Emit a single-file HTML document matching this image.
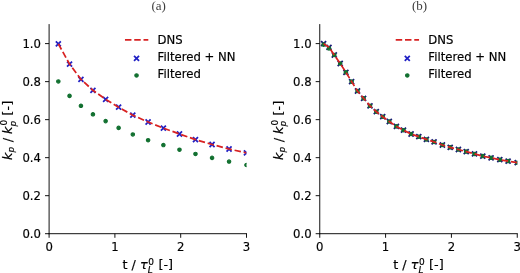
<!DOCTYPE html>
<html><head><meta charset="utf-8"><title>figure</title><style>html,body{margin:0;padding:0;background:#fff;width:520px;height:273px;overflow:hidden}svg{display:block}svg text{stroke:#000;stroke-width:0.15px;paint-order:stroke}</style></head><body>
<svg width="520" height="273" viewBox="0 0 445.714286 234">
 <defs>
  <style type="text/css">*{stroke-linejoin: round; stroke-linecap: butt}</style>
 </defs>
 <g id="figure_1">
  <g id="patch_1">
   <path d="M 0 234 L 445.714286 234 L 445.714286 0 L 0 0 z" style="fill: #ffffff"/>
  </g>
  <g id="axes_1">
   <g id="patch_2">
    <path d="M 42.085714 200.314286 L 211.285714 200.314286 L 211.285714 21.085714 L 42.085714 21.085714 z" style="fill: #ffffff"/>
   </g>
   <g id="matplotlib.axis_1">
    <g id="xtick_1">
     <g id="line2d_1">
      <g>
       <path d="M 0 0 L 0 3.5" transform="translate(42.085714 200.314286)" style="stroke: #000000; stroke-width: 0.8"/>
      </g>
     </g>
     <g id="text_1">
      <text style="font-size: 10px; font-family: 'DejaVu Sans', sans-serif; text-anchor: middle" x="42.085714" y="214.912723" transform="rotate(-0 42.085714 214.912723)">0</text>
     </g>
    </g>
    <g id="xtick_2">
     <g id="line2d_2">
      <g>
       <path d="M 0 0 L 0 3.5" transform="translate(98.485714 200.314286)" style="stroke: #000000; stroke-width: 0.8"/>
      </g>
     </g>
     <g id="text_2">
      <text style="font-size: 10px; font-family: 'DejaVu Sans', sans-serif; text-anchor: middle" x="98.485714" y="214.912723" transform="rotate(-0 98.485714 214.912723)">1</text>
     </g>
    </g>
    <g id="xtick_3">
     <g id="line2d_3">
      <g>
       <path d="M 0 0 L 0 3.5" transform="translate(154.885714 200.314286)" style="stroke: #000000; stroke-width: 0.8"/>
      </g>
     </g>
     <g id="text_3">
      <text style="font-size: 10px; font-family: 'DejaVu Sans', sans-serif; text-anchor: middle" x="154.885714" y="214.912723" transform="rotate(-0 154.885714 214.912723)">2</text>
     </g>
    </g>
    <g id="xtick_4">
     <g id="line2d_4">
      <g>
       <path d="M 0 0 L 0 3.5" transform="translate(211.285714 200.314286)" style="stroke: #000000; stroke-width: 0.8"/>
      </g>
     </g>
     <g id="text_4">
      <text style="font-size: 10px; font-family: 'DejaVu Sans', sans-serif; text-anchor: middle" x="211.285714" y="214.912723" transform="rotate(-0 211.285714 214.912723)">3</text>
     </g>
    </g>
    <g id="text_5">
     <g transform="translate(104.9607 231.0024)">
      <text>
       <tspan x="0" y="-0.06875" style="font-size: 11px; font-family: 'DejaVu Sans', sans-serif">t</tspan>
       <tspan x="4.312988" y="-0.06875" style="font-size: 11px; font-family: 'DejaVu Sans', sans-serif"> </tspan>
       <tspan x="7.80957" y="-0.06875" style="font-size: 11px; font-family: 'DejaVu Sans', sans-serif">/</tspan>
       <tspan x="11.515625" y="-0.06875" style="font-size: 11px; font-family: 'DejaVu Sans', sans-serif"> </tspan>
       <tspan x="27.325798" y="-0.06875" style="font-size: 11px; font-family: 'DejaVu Sans', sans-serif"> </tspan>
       <tspan x="30.82238" y="-0.06875" style="font-size: 11px; font-family: 'DejaVu Sans', sans-serif">[</tspan>
       <tspan x="35.113883" y="-0.06875" style="font-size: 11px; font-family: 'DejaVu Sans', sans-serif">-</tspan>
       <tspan x="39.083122" y="-0.06875" style="font-size: 11px; font-family: 'DejaVu Sans', sans-serif">]</tspan>
       <tspan x="15.012207" y="-0.06875" style="font-style: oblique; font-size: 11px; font-family: 'DejaVu Sans', sans-serif">τ</tspan>
       <tspan x="22.126042" y="-4.279688" style="font-size: 7.7px; font-family: 'DejaVu Sans', sans-serif">0</tspan>
       <tspan x="21.634766" y="2.939062" style="font-style: oblique; font-size: 7.7px; font-family: 'DejaVu Sans', sans-serif">L</tspan>
      </text>
     </g>
    </g>
   </g>
   <g id="matplotlib.axis_2">
    <g id="ytick_1">
     <g id="line2d_5">
      <g>
       <path d="M 0 0 L -3.5 0" transform="translate(42.085714 200.314286)" style="stroke: #000000; stroke-width: 0.8"/>
      </g>
     </g>
     <g id="text_6">
      <text style="font-size: 10px; font-family: 'DejaVu Sans', sans-serif; text-anchor: end" x="35.085714" y="204.113504" transform="rotate(-0 35.085714 204.113504)">0.0</text>
     </g>
    </g>
    <g id="ytick_2">
     <g id="line2d_6">
      <g>
       <path d="M 0 0 L -3.5 0" transform="translate(42.085714 167.727273)" style="stroke: #000000; stroke-width: 0.8"/>
      </g>
     </g>
     <g id="text_7">
      <text style="font-size: 10px; font-family: 'DejaVu Sans', sans-serif; text-anchor: end" x="35.085714" y="171.526491" transform="rotate(-0 35.085714 171.526491)">0.2</text>
     </g>
    </g>
    <g id="ytick_3">
     <g id="line2d_7">
      <g>
       <path d="M 0 0 L -3.5 0" transform="translate(42.085714 135.14026)" style="stroke: #000000; stroke-width: 0.8"/>
      </g>
     </g>
     <g id="text_8">
      <text style="font-size: 10px; font-family: 'DejaVu Sans', sans-serif; text-anchor: end" x="35.085714" y="138.939478" transform="rotate(-0 35.085714 138.939478)">0.4</text>
     </g>
    </g>
    <g id="ytick_4">
     <g id="line2d_8">
      <g>
       <path d="M 0 0 L -3.5 0" transform="translate(42.085714 102.553247)" style="stroke: #000000; stroke-width: 0.8"/>
      </g>
     </g>
     <g id="text_9">
      <text style="font-size: 10px; font-family: 'DejaVu Sans', sans-serif; text-anchor: end" x="35.085714" y="106.352466" transform="rotate(-0 35.085714 106.352466)">0.6</text>
     </g>
    </g>
    <g id="ytick_5">
     <g id="line2d_9">
      <g>
       <path d="M 0 0 L -3.5 0" transform="translate(42.085714 69.966234)" style="stroke: #000000; stroke-width: 0.8"/>
      </g>
     </g>
     <g id="text_10">
      <text style="font-size: 10px; font-family: 'DejaVu Sans', sans-serif; text-anchor: end" x="35.085714" y="73.765453" transform="rotate(-0 35.085714 73.765453)">0.8</text>
     </g>
    </g>
    <g id="ytick_6">
     <g id="line2d_10">
      <g>
       <path d="M 0 0 L -3.5 0" transform="translate(42.085714 37.379221)" style="stroke: #000000; stroke-width: 0.8"/>
      </g>
     </g>
     <g id="text_11">
      <text style="font-size: 10px; font-family: 'DejaVu Sans', sans-serif; text-anchor: end" x="35.085714" y="41.17844" transform="rotate(-0 35.085714 41.17844)">1.0</text>
     </g>
    </g>
    <g id="text_12">
     <g transform="translate(10.5626 137.0836) rotate(-90)">
      <text>
       <tspan x="0" y="-0.06875" style="font-style: oblique; font-size: 11px; font-family: 'DejaVu Sans', sans-serif">k</tspan>
       <tspan x="22.257812" y="-0.06875" style="font-style: oblique; font-size: 11px; font-family: 'DejaVu Sans', sans-serif">k</tspan>
       <tspan x="6.370117" y="1.735937" style="font-style: oblique; font-size: 7.7px; font-family: 'DejaVu Sans', sans-serif">p</tspan>
       <tspan x="28.62793" y="2.939062" style="font-style: oblique; font-size: 7.7px; font-family: 'DejaVu Sans', sans-serif">p</tspan>
       <tspan x="11.558594" y="-0.06875" style="font-size: 11px; font-family: 'DejaVu Sans', sans-serif"> </tspan>
       <tspan x="15.055176" y="-0.06875" style="font-size: 11px; font-family: 'DejaVu Sans', sans-serif">/</tspan>
       <tspan x="18.76123" y="-0.06875" style="font-size: 11px; font-family: 'DejaVu Sans', sans-serif"> </tspan>
       <tspan x="34.647087" y="-0.06875" style="font-size: 11px; font-family: 'DejaVu Sans', sans-serif"> </tspan>
       <tspan x="38.143669" y="-0.06875" style="font-size: 11px; font-family: 'DejaVu Sans', sans-serif">[</tspan>
       <tspan x="42.435173" y="-0.06875" style="font-size: 11px; font-family: 'DejaVu Sans', sans-serif">-</tspan>
       <tspan x="46.404411" y="-0.06875" style="font-size: 11px; font-family: 'DejaVu Sans', sans-serif">]</tspan>
       <tspan x="29.447331" y="-4.279688" style="font-size: 7.7px; font-family: 'DejaVu Sans', sans-serif">0</tspan>
      </text>
     </g>
    </g>
   </g>
   <g id="line2d_11">
    <g clip-path="url(#p7e6d1752d5)">
     <path d="M -2.15 2.15 L 2.15 -2.15 M -2.15 -2.15 L 2.15 2.15" transform="translate(50.010271 37.542857)" style="fill: #2020c4; stroke: #2020c4; stroke-width: 1.5"/>
     <path d="M -2.15 2.15 L 2.15 -2.15 M -2.15 -2.15 L 2.15 2.15" transform="translate(59.60541 54.942857)" style="fill: #2020c4; stroke: #2020c4; stroke-width: 1.5"/>
     <path d="M -2.15 2.15 L 2.15 -2.15 M -2.15 -2.15 L 2.15 2.15" transform="translate(69.371892 67.971429)" style="fill: #2020c4; stroke: #2020c4; stroke-width: 1.5"/>
     <path d="M -2.15 2.15 L 2.15 -2.15 M -2.15 -2.15 L 2.15 2.15" transform="translate(79.652398 77.4)" style="fill: #2020c4; stroke: #2020c4; stroke-width: 1.5"/>
     <path d="M -2.15 2.15 L 2.15 -2.15 M -2.15 -2.15 L 2.15 2.15" transform="translate(90.5326 85.114286)" style="fill: #2020c4; stroke: #2020c4; stroke-width: 1.5"/>
     <path d="M -2.15 2.15 L 2.15 -2.15 M -2.15 -2.15 L 2.15 2.15" transform="translate(101.669816 91.885714)" style="fill: #2020c4; stroke: #2020c4; stroke-width: 1.5"/>
     <path d="M -2.15 2.15 L 2.15 -2.15 M -2.15 -2.15 L 2.15 2.15" transform="translate(113.835081 98.742857)" style="fill: #2020c4; stroke: #2020c4; stroke-width: 1.5"/>
     <path d="M -2.15 2.15 L 2.15 -2.15 M -2.15 -2.15 L 2.15 2.15" transform="translate(126.942727 104.571429)" style="fill: #2020c4; stroke: #2020c4; stroke-width: 1.5"/>
     <path d="M -2.15 2.15 L 2.15 -2.15 M -2.15 -2.15 L 2.15 2.15" transform="translate(140.050373 109.8)" style="fill: #2020c4; stroke: #2020c4; stroke-width: 1.5"/>
     <path d="M -2.15 2.15 L 2.15 -2.15 M -2.15 -2.15 L 2.15 2.15" transform="translate(153.843385 114.857143)" style="fill: #2020c4; stroke: #2020c4; stroke-width: 1.5"/>
     <path d="M -2.15 2.15 L 2.15 -2.15 M -2.15 -2.15 L 2.15 2.15" transform="translate(167.550727 119.657143)" style="fill: #2020c4; stroke: #2020c4; stroke-width: 1.5"/>
     <path d="M -2.15 2.15 L 2.15 -2.15 M -2.15 -2.15 L 2.15 2.15" transform="translate(181.772094 123.857143)" style="fill: #2020c4; stroke: #2020c4; stroke-width: 1.5"/>
     <path d="M -2.15 2.15 L 2.15 -2.15 M -2.15 -2.15 L 2.15 2.15" transform="translate(196.336145 127.714286)" style="fill: #2020c4; stroke: #2020c4; stroke-width: 1.5"/>
     <path d="M -2.15 2.15 L 2.15 -2.15 M -2.15 -2.15 L 2.15 2.15" transform="translate(211.242879 131.057143)" style="fill: #2020c4; stroke: #2020c4; stroke-width: 1.5"/>
    </g>
   </g>
   <g id="line2d_12">
    <g clip-path="url(#p7e6d1752d5)">
     <path d="M 0 1.45 C 0.384544 1.45 0.753391 1.297219 1.025305 1.025305 C 1.297219 0.753391 1.45 0.384544 1.45 0 C 1.45 -0.384544 1.297219 -0.753391 1.025305 -1.025305 C 0.753391 -1.297219 0.384544 -1.45 0 -1.45 C -0.384544 -1.45 -0.753391 -1.297219 -1.025305 -1.025305 C -1.297219 -0.753391 -1.45 -0.384544 -1.45 0 C -1.45 0.384544 -1.297219 0.753391 -1.025305 1.025305 C -0.753391 1.297219 -0.384544 1.45 0 1.45 z" transform="translate(50.010271 69.771429)" style="fill: #127030; stroke: #127030"/>
     <path d="M 0 1.45 C 0.384544 1.45 0.753391 1.297219 1.025305 1.025305 C 1.297219 0.753391 1.45 0.384544 1.45 0 C 1.45 -0.384544 1.297219 -0.753391 1.025305 -1.025305 C 0.753391 -1.297219 0.384544 -1.45 0 -1.45 C -0.384544 -1.45 -0.753391 -1.297219 -1.025305 -1.025305 C -1.297219 -0.753391 -1.45 -0.384544 -1.45 0 C -1.45 0.384544 -1.297219 0.753391 -1.025305 1.025305 C -0.753391 1.297219 -0.384544 1.45 0 1.45 z" transform="translate(59.60541 82.2)" style="fill: #127030; stroke: #127030"/>
     <path d="M 0 1.45 C 0.384544 1.45 0.753391 1.297219 1.025305 1.025305 C 1.297219 0.753391 1.45 0.384544 1.45 0 C 1.45 -0.384544 1.297219 -0.753391 1.025305 -1.025305 C 0.753391 -1.297219 0.384544 -1.45 0 -1.45 C -0.384544 -1.45 -0.753391 -1.297219 -1.025305 -1.025305 C -1.297219 -0.753391 -1.45 -0.384544 -1.45 0 C -1.45 0.384544 -1.297219 0.753391 -1.025305 1.025305 C -0.753391 1.297219 -0.384544 1.45 0 1.45 z" transform="translate(69.371892 90.685714)" style="fill: #127030; stroke: #127030"/>
     <path d="M 0 1.45 C 0.384544 1.45 0.753391 1.297219 1.025305 1.025305 C 1.297219 0.753391 1.45 0.384544 1.45 0 C 1.45 -0.384544 1.297219 -0.753391 1.025305 -1.025305 C 0.753391 -1.297219 0.384544 -1.45 0 -1.45 C -0.384544 -1.45 -0.753391 -1.297219 -1.025305 -1.025305 C -1.297219 -0.753391 -1.45 -0.384544 -1.45 0 C -1.45 0.384544 -1.297219 0.753391 -1.025305 1.025305 C -0.753391 1.297219 -0.384544 1.45 0 1.45 z" transform="translate(79.652398 97.971429)" style="fill: #127030; stroke: #127030"/>
     <path d="M 0 1.45 C 0.384544 1.45 0.753391 1.297219 1.025305 1.025305 C 1.297219 0.753391 1.45 0.384544 1.45 0 C 1.45 -0.384544 1.297219 -0.753391 1.025305 -1.025305 C 0.753391 -1.297219 0.384544 -1.45 0 -1.45 C -0.384544 -1.45 -0.753391 -1.297219 -1.025305 -1.025305 C -1.297219 -0.753391 -1.45 -0.384544 -1.45 0 C -1.45 0.384544 -1.297219 0.753391 -1.025305 1.025305 C -0.753391 1.297219 -0.384544 1.45 0 1.45 z" transform="translate(90.5326 103.8)" style="fill: #127030; stroke: #127030"/>
     <path d="M 0 1.45 C 0.384544 1.45 0.753391 1.297219 1.025305 1.025305 C 1.297219 0.753391 1.45 0.384544 1.45 0 C 1.45 -0.384544 1.297219 -0.753391 1.025305 -1.025305 C 0.753391 -1.297219 0.384544 -1.45 0 -1.45 C -0.384544 -1.45 -0.753391 -1.297219 -1.025305 -1.025305 C -1.297219 -0.753391 -1.45 -0.384544 -1.45 0 C -1.45 0.384544 -1.297219 0.753391 -1.025305 1.025305 C -0.753391 1.297219 -0.384544 1.45 0 1.45 z" transform="translate(101.669816 109.628571)" style="fill: #127030; stroke: #127030"/>
     <path d="M 0 1.45 C 0.384544 1.45 0.753391 1.297219 1.025305 1.025305 C 1.297219 0.753391 1.45 0.384544 1.45 0 C 1.45 -0.384544 1.297219 -0.753391 1.025305 -1.025305 C 0.753391 -1.297219 0.384544 -1.45 0 -1.45 C -0.384544 -1.45 -0.753391 -1.297219 -1.025305 -1.025305 C -1.297219 -0.753391 -1.45 -0.384544 -1.45 0 C -1.45 0.384544 -1.297219 0.753391 -1.025305 1.025305 C -0.753391 1.297219 -0.384544 1.45 0 1.45 z" transform="translate(113.835081 115.2)" style="fill: #127030; stroke: #127030"/>
     <path d="M 0 1.45 C 0.384544 1.45 0.753391 1.297219 1.025305 1.025305 C 1.297219 0.753391 1.45 0.384544 1.45 0 C 1.45 -0.384544 1.297219 -0.753391 1.025305 -1.025305 C 0.753391 -1.297219 0.384544 -1.45 0 -1.45 C -0.384544 -1.45 -0.753391 -1.297219 -1.025305 -1.025305 C -1.297219 -0.753391 -1.45 -0.384544 -1.45 0 C -1.45 0.384544 -1.297219 0.753391 -1.025305 1.025305 C -0.753391 1.297219 -0.384544 1.45 0 1.45 z" transform="translate(126.942727 120.171429)" style="fill: #127030; stroke: #127030"/>
     <path d="M 0 1.45 C 0.384544 1.45 0.753391 1.297219 1.025305 1.025305 C 1.297219 0.753391 1.45 0.384544 1.45 0 C 1.45 -0.384544 1.297219 -0.753391 1.025305 -1.025305 C 0.753391 -1.297219 0.384544 -1.45 0 -1.45 C -0.384544 -1.45 -0.753391 -1.297219 -1.025305 -1.025305 C -1.297219 -0.753391 -1.45 -0.384544 -1.45 0 C -1.45 0.384544 -1.297219 0.753391 -1.025305 1.025305 C -0.753391 1.297219 -0.384544 1.45 0 1.45 z" transform="translate(140.050373 124.371429)" style="fill: #127030; stroke: #127030"/>
     <path d="M 0 1.45 C 0.384544 1.45 0.753391 1.297219 1.025305 1.025305 C 1.297219 0.753391 1.45 0.384544 1.45 0 C 1.45 -0.384544 1.297219 -0.753391 1.025305 -1.025305 C 0.753391 -1.297219 0.384544 -1.45 0 -1.45 C -0.384544 -1.45 -0.753391 -1.297219 -1.025305 -1.025305 C -1.297219 -0.753391 -1.45 -0.384544 -1.45 0 C -1.45 0.384544 -1.297219 0.753391 -1.025305 1.025305 C -0.753391 1.297219 -0.384544 1.45 0 1.45 z" transform="translate(153.843385 128.314286)" style="fill: #127030; stroke: #127030"/>
     <path d="M 0 1.45 C 0.384544 1.45 0.753391 1.297219 1.025305 1.025305 C 1.297219 0.753391 1.45 0.384544 1.45 0 C 1.45 -0.384544 1.297219 -0.753391 1.025305 -1.025305 C 0.753391 -1.297219 0.384544 -1.45 0 -1.45 C -0.384544 -1.45 -0.753391 -1.297219 -1.025305 -1.025305 C -1.297219 -0.753391 -1.45 -0.384544 -1.45 0 C -1.45 0.384544 -1.297219 0.753391 -1.025305 1.025305 C -0.753391 1.297219 -0.384544 1.45 0 1.45 z" transform="translate(167.550727 131.914286)" style="fill: #127030; stroke: #127030"/>
     <path d="M 0 1.45 C 0.384544 1.45 0.753391 1.297219 1.025305 1.025305 C 1.297219 0.753391 1.45 0.384544 1.45 0 C 1.45 -0.384544 1.297219 -0.753391 1.025305 -1.025305 C 0.753391 -1.297219 0.384544 -1.45 0 -1.45 C -0.384544 -1.45 -0.753391 -1.297219 -1.025305 -1.025305 C -1.297219 -0.753391 -1.45 -0.384544 -1.45 0 C -1.45 0.384544 -1.297219 0.753391 -1.025305 1.025305 C -0.753391 1.297219 -0.384544 1.45 0 1.45 z" transform="translate(181.772094 135.342857)" style="fill: #127030; stroke: #127030"/>
     <path d="M 0 1.45 C 0.384544 1.45 0.753391 1.297219 1.025305 1.025305 C 1.297219 0.753391 1.45 0.384544 1.45 0 C 1.45 -0.384544 1.297219 -0.753391 1.025305 -1.025305 C 0.753391 -1.297219 0.384544 -1.45 0 -1.45 C -0.384544 -1.45 -0.753391 -1.297219 -1.025305 -1.025305 C -1.297219 -0.753391 -1.45 -0.384544 -1.45 0 C -1.45 0.384544 -1.297219 0.753391 -1.025305 1.025305 C -0.753391 1.297219 -0.384544 1.45 0 1.45 z" transform="translate(196.336145 138.514286)" style="fill: #127030; stroke: #127030"/>
     <path d="M 0 1.45 C 0.384544 1.45 0.753391 1.297219 1.025305 1.025305 C 1.297219 0.753391 1.45 0.384544 1.45 0 C 1.45 -0.384544 1.297219 -0.753391 1.025305 -1.025305 C 0.753391 -1.297219 0.384544 -1.45 0 -1.45 C -0.384544 -1.45 -0.753391 -1.297219 -1.025305 -1.025305 C -1.297219 -0.753391 -1.45 -0.384544 -1.45 0 C -1.45 0.384544 -1.297219 0.753391 -1.025305 1.025305 C -0.753391 1.297219 -0.384544 1.45 0 1.45 z" transform="translate(211.242879 141.428571)" style="fill: #127030; stroke: #127030"/>
    </g>
   </g>
   <g id="line2d_13">
    <path d="M 50.010271 37.542857 L 59.60541 54.942857 L 69.371892 67.971429 L 79.652398 77.4 L 90.5326 85.114286 L 101.669816 91.885714 L 113.835081 98.742857 L 126.942727 104.571429 L 140.050373 109.8 L 153.843385 114.857143 L 167.550727 119.657143 L 181.772094 123.857143 L 196.336145 127.714286 L 211.242879 131.057143" clip-path="url(#p7e6d1752d5)" style="fill: none; stroke-dasharray: 5.55,2.4; stroke-dashoffset: 0; stroke: #d82222; stroke-width: 1.5"/>
   </g>
   <g id="patch_3">
    <path d="M 42.085714 200.314286 L 42.085714 21.085714" style="fill: none; stroke: #000000; stroke-width: 0.8; stroke-linejoin: miter; stroke-linecap: square"/>
   </g>
   <g id="patch_4">
    <path d="M 42.085714 200.314286 L 211.285714 200.314286" style="fill: none; stroke: #000000; stroke-width: 0.8; stroke-linejoin: miter; stroke-linecap: square"/>
   </g>
   <g id="legend_1" transform="translate(-0.4286 0)">
    <g id="line2d_14">
     <path d="M 107.543527 34.184152 L 117.543527 34.184152 L 127.543527 34.184152" style="fill: none; stroke-dasharray: 5.55,2.4; stroke-dashoffset: 0; stroke: #d82222; stroke-width: 1.5"/>
    </g>
    <g id="text_13">
     <text style="font-size: 10px; font-family: 'DejaVu Sans', sans-serif; text-anchor: start" x="135.543527" y="37.684152" transform="rotate(-0 135.543527 37.684152)">DNS</text>
    </g>
    <g id="line2d_15">
     <g>
      <path d="M -2.15 2.15 L 2.15 -2.15 M -2.15 -2.15 L 2.15 2.15" transform="translate(117.4578 49.9766)" style="fill: #2020c4; stroke: #2020c4; stroke-width: 1.5"/>
     </g>
    </g>
    <g id="text_14">
     <text style="font-size: 10px; font-family: 'DejaVu Sans', sans-serif; text-anchor: start" x="135.543527" y="52.362277" transform="rotate(-0 135.543527 52.362277)">Filtered + NN</text>
    </g>
    <g id="line2d_16">
     <g>
      <path d="M 0 1.45 C 0.384544 1.45 0.753391 1.297219 1.025305 1.025305 C 1.297219 0.753391 1.45 0.384544 1.45 0 C 1.45 -0.384544 1.297219 -0.753391 1.025305 -1.025305 C 0.753391 -1.297219 0.384544 -1.45 0 -1.45 C -0.384544 -1.45 -0.753391 -1.297219 -1.025305 -1.025305 C -1.297219 -0.753391 -1.45 -0.384544 -1.45 0 C -1.45 0.384544 -1.297219 0.753391 -1.025305 1.025305 C -0.753391 1.297219 -0.384544 1.45 0 1.45 z" transform="translate(117.4578 64.6547)" style="fill: #127030; stroke: #127030"/>
     </g>
    </g>
    <g id="text_15">
     <text style="font-size: 10px; font-family: 'DejaVu Sans', sans-serif; text-anchor: start" x="135.543527" y="67.040402" transform="rotate(-0 135.543527 67.040402)">Filtered</text>
    </g>
   </g>
  </g>
  <g id="axes_2">
   <g id="patch_5">
    <path d="M 274.071429 200.314286 L 443.357143 200.314286 L 443.357143 21.085714 L 274.071429 21.085714 z" style="fill: #ffffff"/>
   </g>
   <g id="matplotlib.axis_3">
    <g id="xtick_5">
     <g id="line2d_17">
      <g>
       <path d="M 0 0 L 0 3.5" transform="translate(274.071429 200.314286)" style="stroke: #000000; stroke-width: 0.8"/>
      </g>
     </g>
     <g id="text_16">
      <text style="font-size: 10px; font-family: 'DejaVu Sans', sans-serif; text-anchor: middle" x="274.071429" y="214.912723" transform="rotate(-0 274.071429 214.912723)">0</text>
     </g>
    </g>
    <g id="xtick_6">
     <g id="line2d_18">
      <g>
       <path d="M 0 0 L 0 3.5" transform="translate(330.5 200.314286)" style="stroke: #000000; stroke-width: 0.8"/>
      </g>
     </g>
     <g id="text_17">
      <text style="font-size: 10px; font-family: 'DejaVu Sans', sans-serif; text-anchor: middle" x="330.5" y="214.912723" transform="rotate(-0 330.5 214.912723)">1</text>
     </g>
    </g>
    <g id="xtick_7">
     <g id="line2d_19">
      <g>
       <path d="M 0 0 L 0 3.5" transform="translate(386.928571 200.314286)" style="stroke: #000000; stroke-width: 0.8"/>
      </g>
     </g>
     <g id="text_18">
      <text style="font-size: 10px; font-family: 'DejaVu Sans', sans-serif; text-anchor: middle" x="386.928571" y="214.912723" transform="rotate(-0 386.928571 214.912723)">2</text>
     </g>
    </g>
    <g id="xtick_8">
     <g id="line2d_20">
      <g>
       <path d="M 0 0 L 0 3.5" transform="translate(443.357143 200.314286)" style="stroke: #000000; stroke-width: 0.8"/>
      </g>
     </g>
     <g id="text_19">
      <text style="font-size: 10px; font-family: 'DejaVu Sans', sans-serif; text-anchor: middle" x="443.357143" y="214.912723" transform="rotate(-0 443.357143 214.912723)">3</text>
     </g>
    </g>
    <g id="text_20">
     <g transform="translate(336.9893 231.0024)">
      <text>
       <tspan x="0" y="-0.06875" style="font-size: 11px; font-family: 'DejaVu Sans', sans-serif">t</tspan>
       <tspan x="4.312988" y="-0.06875" style="font-size: 11px; font-family: 'DejaVu Sans', sans-serif"> </tspan>
       <tspan x="7.80957" y="-0.06875" style="font-size: 11px; font-family: 'DejaVu Sans', sans-serif">/</tspan>
       <tspan x="11.515625" y="-0.06875" style="font-size: 11px; font-family: 'DejaVu Sans', sans-serif"> </tspan>
       <tspan x="27.325798" y="-0.06875" style="font-size: 11px; font-family: 'DejaVu Sans', sans-serif"> </tspan>
       <tspan x="30.82238" y="-0.06875" style="font-size: 11px; font-family: 'DejaVu Sans', sans-serif">[</tspan>
       <tspan x="35.113883" y="-0.06875" style="font-size: 11px; font-family: 'DejaVu Sans', sans-serif">-</tspan>
       <tspan x="39.083122" y="-0.06875" style="font-size: 11px; font-family: 'DejaVu Sans', sans-serif">]</tspan>
       <tspan x="15.012207" y="-0.06875" style="font-style: oblique; font-size: 11px; font-family: 'DejaVu Sans', sans-serif">τ</tspan>
       <tspan x="22.126042" y="-4.279688" style="font-size: 7.7px; font-family: 'DejaVu Sans', sans-serif">0</tspan>
       <tspan x="21.634766" y="2.939062" style="font-style: oblique; font-size: 7.7px; font-family: 'DejaVu Sans', sans-serif">L</tspan>
      </text>
     </g>
    </g>
   </g>
   <g id="matplotlib.axis_4">
    <g id="ytick_7">
     <g id="line2d_21">
      <g>
       <path d="M 0 0 L -3.5 0" transform="translate(274.071429 200.314286)" style="stroke: #000000; stroke-width: 0.8"/>
      </g>
     </g>
     <g id="text_21">
      <text style="font-size: 10px; font-family: 'DejaVu Sans', sans-serif; text-anchor: end" x="267.071429" y="204.113504" transform="rotate(-0 267.071429 204.113504)">0.0</text>
     </g>
    </g>
    <g id="ytick_8">
     <g id="line2d_22">
      <g>
       <path d="M 0 0 L -3.5 0" transform="translate(274.071429 167.727273)" style="stroke: #000000; stroke-width: 0.8"/>
      </g>
     </g>
     <g id="text_22">
      <text style="font-size: 10px; font-family: 'DejaVu Sans', sans-serif; text-anchor: end" x="267.071429" y="171.526491" transform="rotate(-0 267.071429 171.526491)">0.2</text>
     </g>
    </g>
    <g id="ytick_9">
     <g id="line2d_23">
      <g>
       <path d="M 0 0 L -3.5 0" transform="translate(274.071429 135.14026)" style="stroke: #000000; stroke-width: 0.8"/>
      </g>
     </g>
     <g id="text_23">
      <text style="font-size: 10px; font-family: 'DejaVu Sans', sans-serif; text-anchor: end" x="267.071429" y="138.939478" transform="rotate(-0 267.071429 138.939478)">0.4</text>
     </g>
    </g>
    <g id="ytick_10">
     <g id="line2d_24">
      <g>
       <path d="M 0 0 L -3.5 0" transform="translate(274.071429 102.553247)" style="stroke: #000000; stroke-width: 0.8"/>
      </g>
     </g>
     <g id="text_24">
      <text style="font-size: 10px; font-family: 'DejaVu Sans', sans-serif; text-anchor: end" x="267.071429" y="106.352466" transform="rotate(-0 267.071429 106.352466)">0.6</text>
     </g>
    </g>
    <g id="ytick_11">
     <g id="line2d_25">
      <g>
       <path d="M 0 0 L -3.5 0" transform="translate(274.071429 69.966234)" style="stroke: #000000; stroke-width: 0.8"/>
      </g>
     </g>
     <g id="text_25">
      <text style="font-size: 10px; font-family: 'DejaVu Sans', sans-serif; text-anchor: end" x="267.071429" y="73.765453" transform="rotate(-0 267.071429 73.765453)">0.8</text>
     </g>
    </g>
    <g id="ytick_12">
     <g id="line2d_26">
      <g>
       <path d="M 0 0 L -3.5 0" transform="translate(274.071429 37.379221)" style="stroke: #000000; stroke-width: 0.8"/>
      </g>
     </g>
     <g id="text_26">
      <text style="font-size: 10px; font-family: 'DejaVu Sans', sans-serif; text-anchor: end" x="267.071429" y="41.17844" transform="rotate(-0 267.071429 41.17844)">1.0</text>
     </g>
    </g>
    <g id="text_27">
     <g transform="translate(242.5483 137.0836) rotate(-90)">
      <text>
       <tspan x="0" y="-0.06875" style="font-style: oblique; font-size: 11px; font-family: 'DejaVu Sans', sans-serif">k</tspan>
       <tspan x="22.257812" y="-0.06875" style="font-style: oblique; font-size: 11px; font-family: 'DejaVu Sans', sans-serif">k</tspan>
       <tspan x="6.370117" y="1.735937" style="font-style: oblique; font-size: 7.7px; font-family: 'DejaVu Sans', sans-serif">p</tspan>
       <tspan x="28.62793" y="2.939062" style="font-style: oblique; font-size: 7.7px; font-family: 'DejaVu Sans', sans-serif">p</tspan>
       <tspan x="11.558594" y="-0.06875" style="font-size: 11px; font-family: 'DejaVu Sans', sans-serif"> </tspan>
       <tspan x="15.055176" y="-0.06875" style="font-size: 11px; font-family: 'DejaVu Sans', sans-serif">/</tspan>
       <tspan x="18.76123" y="-0.06875" style="font-size: 11px; font-family: 'DejaVu Sans', sans-serif"> </tspan>
       <tspan x="34.647087" y="-0.06875" style="font-size: 11px; font-family: 'DejaVu Sans', sans-serif"> </tspan>
       <tspan x="38.143669" y="-0.06875" style="font-size: 11px; font-family: 'DejaVu Sans', sans-serif">[</tspan>
       <tspan x="42.435173" y="-0.06875" style="font-size: 11px; font-family: 'DejaVu Sans', sans-serif">-</tspan>
       <tspan x="46.404411" y="-0.06875" style="font-size: 11px; font-family: 'DejaVu Sans', sans-serif">]</tspan>
       <tspan x="29.447331" y="-4.279688" style="font-size: 7.7px; font-family: 'DejaVu Sans', sans-serif">0</tspan>
      </text>
     </g>
    </g>
   </g>
   <g id="line2d_27">
    <g clip-path="url(#p95ece65097)">
     <path d="M -2.15 2.15 L 2.15 -2.15 M -2.15 -2.15 L 2.15 2.15" transform="translate(277.371429 37.371429)" style="fill: #1a1a78; stroke: #1a1a78; stroke-width: 1.5"/>
     <path d="M -2.15 2.15 L 2.15 -2.15 M -2.15 -2.15 L 2.15 2.15" transform="translate(282 40.628571)" style="fill: #1a1a78; stroke: #1a1a78; stroke-width: 1.5"/>
     <path d="M -2.15 2.15 L 2.15 -2.15 M -2.15 -2.15 L 2.15 2.15" transform="translate(286.542857 47.142857)" style="fill: #1a1a78; stroke: #1a1a78; stroke-width: 1.5"/>
     <path d="M -2.15 2.15 L 2.15 -2.15 M -2.15 -2.15 L 2.15 2.15" transform="translate(291.6 54.428571)" style="fill: #1a1a78; stroke: #1a1a78; stroke-width: 1.5"/>
     <path d="M -2.15 2.15 L 2.15 -2.15 M -2.15 -2.15 L 2.15 2.15" transform="translate(296.485714 61.971429)" style="fill: #1a1a78; stroke: #1a1a78; stroke-width: 1.5"/>
     <path d="M -2.15 2.15 L 2.15 -2.15 M -2.15 -2.15 L 2.15 2.15" transform="translate(301.371429 69.942857)" style="fill: #1a1a78; stroke: #1a1a78; stroke-width: 1.5"/>
     <path d="M -2.15 2.15 L 2.15 -2.15 M -2.15 -2.15 L 2.15 2.15" transform="translate(306.428571 78)" style="fill: #1a1a78; stroke: #1a1a78; stroke-width: 1.5"/>
     <path d="M -2.15 2.15 L 2.15 -2.15 M -2.15 -2.15 L 2.15 2.15" transform="translate(311.657143 84.257143)" style="fill: #1a1a78; stroke: #1a1a78; stroke-width: 1.5"/>
     <path d="M -2.15 2.15 L 2.15 -2.15 M -2.15 -2.15 L 2.15 2.15" transform="translate(317.142857 90.685714)" style="fill: #1a1a78; stroke: #1a1a78; stroke-width: 1.5"/>
     <path d="M -2.15 2.15 L 2.15 -2.15 M -2.15 -2.15 L 2.15 2.15" transform="translate(322.542857 95.742857)" style="fill: #1a1a78; stroke: #1a1a78; stroke-width: 1.5"/>
     <path d="M -2.15 2.15 L 2.15 -2.15 M -2.15 -2.15 L 2.15 2.15" transform="translate(328.028571 100.028571)" style="fill: #1a1a78; stroke: #1a1a78; stroke-width: 1.5"/>
     <path d="M -2.15 2.15 L 2.15 -2.15 M -2.15 -2.15 L 2.15 2.15" transform="translate(333.685714 104.142857)" style="fill: #1a1a78; stroke: #1a1a78; stroke-width: 1.5"/>
     <path d="M -2.15 2.15 L 2.15 -2.15 M -2.15 -2.15 L 2.15 2.15" transform="translate(339.771429 108.342857)" style="fill: #1a1a78; stroke: #1a1a78; stroke-width: 1.5"/>
     <path d="M -2.15 2.15 L 2.15 -2.15 M -2.15 -2.15 L 2.15 2.15" transform="translate(345.857143 111.6)" style="fill: #1a1a78; stroke: #1a1a78; stroke-width: 1.5"/>
     <path d="M -2.15 2.15 L 2.15 -2.15 M -2.15 -2.15 L 2.15 2.15" transform="translate(352.371429 114.857143)" style="fill: #1a1a78; stroke: #1a1a78; stroke-width: 1.5"/>
     <path d="M -2.15 2.15 L 2.15 -2.15 M -2.15 -2.15 L 2.15 2.15" transform="translate(358.971429 117.171429)" style="fill: #1a1a78; stroke: #1a1a78; stroke-width: 1.5"/>
     <path d="M -2.15 2.15 L 2.15 -2.15 M -2.15 -2.15 L 2.15 2.15" transform="translate(365.485714 119.485714)" style="fill: #1a1a78; stroke: #1a1a78; stroke-width: 1.5"/>
     <path d="M -2.15 2.15 L 2.15 -2.15 M -2.15 -2.15 L 2.15 2.15" transform="translate(372.085714 121.628571)" style="fill: #1a1a78; stroke: #1a1a78; stroke-width: 1.5"/>
     <path d="M -2.15 2.15 L 2.15 -2.15 M -2.15 -2.15 L 2.15 2.15" transform="translate(379.2 124.285714)" style="fill: #1a1a78; stroke: #1a1a78; stroke-width: 1.5"/>
     <path d="M -2.15 2.15 L 2.15 -2.15 M -2.15 -2.15 L 2.15 2.15" transform="translate(385.885714 126.257143)" style="fill: #1a1a78; stroke: #1a1a78; stroke-width: 1.5"/>
     <path d="M -2.15 2.15 L 2.15 -2.15 M -2.15 -2.15 L 2.15 2.15" transform="translate(392.914286 128.142857)" style="fill: #1a1a78; stroke: #1a1a78; stroke-width: 1.5"/>
     <path d="M -2.15 2.15 L 2.15 -2.15 M -2.15 -2.15 L 2.15 2.15" transform="translate(399.6 129.942857)" style="fill: #1a1a78; stroke: #1a1a78; stroke-width: 1.5"/>
     <path d="M -2.15 2.15 L 2.15 -2.15 M -2.15 -2.15 L 2.15 2.15" transform="translate(406.714286 131.914286)" style="fill: #1a1a78; stroke: #1a1a78; stroke-width: 1.5"/>
     <path d="M -2.15 2.15 L 2.15 -2.15 M -2.15 -2.15 L 2.15 2.15" transform="translate(413.828571 133.8)" style="fill: #1a1a78; stroke: #1a1a78; stroke-width: 1.5"/>
     <path d="M -2.15 2.15 L 2.15 -2.15 M -2.15 -2.15 L 2.15 2.15" transform="translate(420.942857 135.257143)" style="fill: #1a1a78; stroke: #1a1a78; stroke-width: 1.5"/>
     <path d="M -2.15 2.15 L 2.15 -2.15 M -2.15 -2.15 L 2.15 2.15" transform="translate(428.4 136.885714)" style="fill: #1a1a78; stroke: #1a1a78; stroke-width: 1.5"/>
     <path d="M -2.15 2.15 L 2.15 -2.15 M -2.15 -2.15 L 2.15 2.15" transform="translate(435.514286 138.085714)" style="fill: #1a1a78; stroke: #1a1a78; stroke-width: 1.5"/>
     <path d="M -2.15 2.15 L 2.15 -2.15 M -2.15 -2.15 L 2.15 2.15" transform="translate(443.314286 139.457143)" style="fill: #1a1a78; stroke: #1a1a78; stroke-width: 1.5"/>
    </g>
   </g>
   <g id="line2d_28">
    <g clip-path="url(#p95ece65097)">
     <path d="M 0 1.45 C 0.384544 1.45 0.753391 1.297219 1.025305 1.025305 C 1.297219 0.753391 1.45 0.384544 1.45 0 C 1.45 -0.384544 1.297219 -0.753391 1.025305 -1.025305 C 0.753391 -1.297219 0.384544 -1.45 0 -1.45 C -0.384544 -1.45 -0.753391 -1.297219 -1.025305 -1.025305 C -1.297219 -0.753391 -1.45 -0.384544 -1.45 0 C -1.45 0.384544 -1.297219 0.753391 -1.025305 1.025305 C -0.753391 1.297219 -0.384544 1.45 0 1.45 z" transform="translate(277.371429 38.228571)" style="fill: #127030; stroke: #127030"/>
     <path d="M 0 1.45 C 0.384544 1.45 0.753391 1.297219 1.025305 1.025305 C 1.297219 0.753391 1.45 0.384544 1.45 0 C 1.45 -0.384544 1.297219 -0.753391 1.025305 -1.025305 C 0.753391 -1.297219 0.384544 -1.45 0 -1.45 C -0.384544 -1.45 -0.753391 -1.297219 -1.025305 -1.025305 C -1.297219 -0.753391 -1.45 -0.384544 -1.45 0 C -1.45 0.384544 -1.297219 0.753391 -1.025305 1.025305 C -0.753391 1.297219 -0.384544 1.45 0 1.45 z" transform="translate(282 41.485714)" style="fill: #127030; stroke: #127030"/>
     <path d="M 0 1.45 C 0.384544 1.45 0.753391 1.297219 1.025305 1.025305 C 1.297219 0.753391 1.45 0.384544 1.45 0 C 1.45 -0.384544 1.297219 -0.753391 1.025305 -1.025305 C 0.753391 -1.297219 0.384544 -1.45 0 -1.45 C -0.384544 -1.45 -0.753391 -1.297219 -1.025305 -1.025305 C -1.297219 -0.753391 -1.45 -0.384544 -1.45 0 C -1.45 0.384544 -1.297219 0.753391 -1.025305 1.025305 C -0.753391 1.297219 -0.384544 1.45 0 1.45 z" transform="translate(286.542857 47.142857)" style="fill: #127030; stroke: #127030"/>
     <path d="M 0 1.45 C 0.384544 1.45 0.753391 1.297219 1.025305 1.025305 C 1.297219 0.753391 1.45 0.384544 1.45 0 C 1.45 -0.384544 1.297219 -0.753391 1.025305 -1.025305 C 0.753391 -1.297219 0.384544 -1.45 0 -1.45 C -0.384544 -1.45 -0.753391 -1.297219 -1.025305 -1.025305 C -1.297219 -0.753391 -1.45 -0.384544 -1.45 0 C -1.45 0.384544 -1.297219 0.753391 -1.025305 1.025305 C -0.753391 1.297219 -0.384544 1.45 0 1.45 z" transform="translate(291.6 54.428571)" style="fill: #127030; stroke: #127030"/>
     <path d="M 0 1.45 C 0.384544 1.45 0.753391 1.297219 1.025305 1.025305 C 1.297219 0.753391 1.45 0.384544 1.45 0 C 1.45 -0.384544 1.297219 -0.753391 1.025305 -1.025305 C 0.753391 -1.297219 0.384544 -1.45 0 -1.45 C -0.384544 -1.45 -0.753391 -1.297219 -1.025305 -1.025305 C -1.297219 -0.753391 -1.45 -0.384544 -1.45 0 C -1.45 0.384544 -1.297219 0.753391 -1.025305 1.025305 C -0.753391 1.297219 -0.384544 1.45 0 1.45 z" transform="translate(296.485714 61.971429)" style="fill: #127030; stroke: #127030"/>
     <path d="M 0 1.45 C 0.384544 1.45 0.753391 1.297219 1.025305 1.025305 C 1.297219 0.753391 1.45 0.384544 1.45 0 C 1.45 -0.384544 1.297219 -0.753391 1.025305 -1.025305 C 0.753391 -1.297219 0.384544 -1.45 0 -1.45 C -0.384544 -1.45 -0.753391 -1.297219 -1.025305 -1.025305 C -1.297219 -0.753391 -1.45 -0.384544 -1.45 0 C -1.45 0.384544 -1.297219 0.753391 -1.025305 1.025305 C -0.753391 1.297219 -0.384544 1.45 0 1.45 z" transform="translate(301.371429 69.942857)" style="fill: #127030; stroke: #127030"/>
     <path d="M 0 1.45 C 0.384544 1.45 0.753391 1.297219 1.025305 1.025305 C 1.297219 0.753391 1.45 0.384544 1.45 0 C 1.45 -0.384544 1.297219 -0.753391 1.025305 -1.025305 C 0.753391 -1.297219 0.384544 -1.45 0 -1.45 C -0.384544 -1.45 -0.753391 -1.297219 -1.025305 -1.025305 C -1.297219 -0.753391 -1.45 -0.384544 -1.45 0 C -1.45 0.384544 -1.297219 0.753391 -1.025305 1.025305 C -0.753391 1.297219 -0.384544 1.45 0 1.45 z" transform="translate(306.428571 78)" style="fill: #127030; stroke: #127030"/>
     <path d="M 0 1.45 C 0.384544 1.45 0.753391 1.297219 1.025305 1.025305 C 1.297219 0.753391 1.45 0.384544 1.45 0 C 1.45 -0.384544 1.297219 -0.753391 1.025305 -1.025305 C 0.753391 -1.297219 0.384544 -1.45 0 -1.45 C -0.384544 -1.45 -0.753391 -1.297219 -1.025305 -1.025305 C -1.297219 -0.753391 -1.45 -0.384544 -1.45 0 C -1.45 0.384544 -1.297219 0.753391 -1.025305 1.025305 C -0.753391 1.297219 -0.384544 1.45 0 1.45 z" transform="translate(311.657143 84.257143)" style="fill: #127030; stroke: #127030"/>
     <path d="M 0 1.45 C 0.384544 1.45 0.753391 1.297219 1.025305 1.025305 C 1.297219 0.753391 1.45 0.384544 1.45 0 C 1.45 -0.384544 1.297219 -0.753391 1.025305 -1.025305 C 0.753391 -1.297219 0.384544 -1.45 0 -1.45 C -0.384544 -1.45 -0.753391 -1.297219 -1.025305 -1.025305 C -1.297219 -0.753391 -1.45 -0.384544 -1.45 0 C -1.45 0.384544 -1.297219 0.753391 -1.025305 1.025305 C -0.753391 1.297219 -0.384544 1.45 0 1.45 z" transform="translate(317.142857 90.685714)" style="fill: #127030; stroke: #127030"/>
     <path d="M 0 1.45 C 0.384544 1.45 0.753391 1.297219 1.025305 1.025305 C 1.297219 0.753391 1.45 0.384544 1.45 0 C 1.45 -0.384544 1.297219 -0.753391 1.025305 -1.025305 C 0.753391 -1.297219 0.384544 -1.45 0 -1.45 C -0.384544 -1.45 -0.753391 -1.297219 -1.025305 -1.025305 C -1.297219 -0.753391 -1.45 -0.384544 -1.45 0 C -1.45 0.384544 -1.297219 0.753391 -1.025305 1.025305 C -0.753391 1.297219 -0.384544 1.45 0 1.45 z" transform="translate(322.542857 95.742857)" style="fill: #127030; stroke: #127030"/>
     <path d="M 0 1.45 C 0.384544 1.45 0.753391 1.297219 1.025305 1.025305 C 1.297219 0.753391 1.45 0.384544 1.45 0 C 1.45 -0.384544 1.297219 -0.753391 1.025305 -1.025305 C 0.753391 -1.297219 0.384544 -1.45 0 -1.45 C -0.384544 -1.45 -0.753391 -1.297219 -1.025305 -1.025305 C -1.297219 -0.753391 -1.45 -0.384544 -1.45 0 C -1.45 0.384544 -1.297219 0.753391 -1.025305 1.025305 C -0.753391 1.297219 -0.384544 1.45 0 1.45 z" transform="translate(328.028571 100.028571)" style="fill: #127030; stroke: #127030"/>
     <path d="M 0 1.45 C 0.384544 1.45 0.753391 1.297219 1.025305 1.025305 C 1.297219 0.753391 1.45 0.384544 1.45 0 C 1.45 -0.384544 1.297219 -0.753391 1.025305 -1.025305 C 0.753391 -1.297219 0.384544 -1.45 0 -1.45 C -0.384544 -1.45 -0.753391 -1.297219 -1.025305 -1.025305 C -1.297219 -0.753391 -1.45 -0.384544 -1.45 0 C -1.45 0.384544 -1.297219 0.753391 -1.025305 1.025305 C -0.753391 1.297219 -0.384544 1.45 0 1.45 z" transform="translate(333.685714 104.142857)" style="fill: #127030; stroke: #127030"/>
     <path d="M 0 1.45 C 0.384544 1.45 0.753391 1.297219 1.025305 1.025305 C 1.297219 0.753391 1.45 0.384544 1.45 0 C 1.45 -0.384544 1.297219 -0.753391 1.025305 -1.025305 C 0.753391 -1.297219 0.384544 -1.45 0 -1.45 C -0.384544 -1.45 -0.753391 -1.297219 -1.025305 -1.025305 C -1.297219 -0.753391 -1.45 -0.384544 -1.45 0 C -1.45 0.384544 -1.297219 0.753391 -1.025305 1.025305 C -0.753391 1.297219 -0.384544 1.45 0 1.45 z" transform="translate(339.771429 108.342857)" style="fill: #127030; stroke: #127030"/>
     <path d="M 0 1.45 C 0.384544 1.45 0.753391 1.297219 1.025305 1.025305 C 1.297219 0.753391 1.45 0.384544 1.45 0 C 1.45 -0.384544 1.297219 -0.753391 1.025305 -1.025305 C 0.753391 -1.297219 0.384544 -1.45 0 -1.45 C -0.384544 -1.45 -0.753391 -1.297219 -1.025305 -1.025305 C -1.297219 -0.753391 -1.45 -0.384544 -1.45 0 C -1.45 0.384544 -1.297219 0.753391 -1.025305 1.025305 C -0.753391 1.297219 -0.384544 1.45 0 1.45 z" transform="translate(345.857143 111.6)" style="fill: #127030; stroke: #127030"/>
     <path d="M 0 1.45 C 0.384544 1.45 0.753391 1.297219 1.025305 1.025305 C 1.297219 0.753391 1.45 0.384544 1.45 0 C 1.45 -0.384544 1.297219 -0.753391 1.025305 -1.025305 C 0.753391 -1.297219 0.384544 -1.45 0 -1.45 C -0.384544 -1.45 -0.753391 -1.297219 -1.025305 -1.025305 C -1.297219 -0.753391 -1.45 -0.384544 -1.45 0 C -1.45 0.384544 -1.297219 0.753391 -1.025305 1.025305 C -0.753391 1.297219 -0.384544 1.45 0 1.45 z" transform="translate(352.371429 114.857143)" style="fill: #127030; stroke: #127030"/>
     <path d="M 0 1.45 C 0.384544 1.45 0.753391 1.297219 1.025305 1.025305 C 1.297219 0.753391 1.45 0.384544 1.45 0 C 1.45 -0.384544 1.297219 -0.753391 1.025305 -1.025305 C 0.753391 -1.297219 0.384544 -1.45 0 -1.45 C -0.384544 -1.45 -0.753391 -1.297219 -1.025305 -1.025305 C -1.297219 -0.753391 -1.45 -0.384544 -1.45 0 C -1.45 0.384544 -1.297219 0.753391 -1.025305 1.025305 C -0.753391 1.297219 -0.384544 1.45 0 1.45 z" transform="translate(358.971429 117.171429)" style="fill: #127030; stroke: #127030"/>
     <path d="M 0 1.45 C 0.384544 1.45 0.753391 1.297219 1.025305 1.025305 C 1.297219 0.753391 1.45 0.384544 1.45 0 C 1.45 -0.384544 1.297219 -0.753391 1.025305 -1.025305 C 0.753391 -1.297219 0.384544 -1.45 0 -1.45 C -0.384544 -1.45 -0.753391 -1.297219 -1.025305 -1.025305 C -1.297219 -0.753391 -1.45 -0.384544 -1.45 0 C -1.45 0.384544 -1.297219 0.753391 -1.025305 1.025305 C -0.753391 1.297219 -0.384544 1.45 0 1.45 z" transform="translate(365.485714 119.485714)" style="fill: #127030; stroke: #127030"/>
     <path d="M 0 1.45 C 0.384544 1.45 0.753391 1.297219 1.025305 1.025305 C 1.297219 0.753391 1.45 0.384544 1.45 0 C 1.45 -0.384544 1.297219 -0.753391 1.025305 -1.025305 C 0.753391 -1.297219 0.384544 -1.45 0 -1.45 C -0.384544 -1.45 -0.753391 -1.297219 -1.025305 -1.025305 C -1.297219 -0.753391 -1.45 -0.384544 -1.45 0 C -1.45 0.384544 -1.297219 0.753391 -1.025305 1.025305 C -0.753391 1.297219 -0.384544 1.45 0 1.45 z" transform="translate(372.085714 121.628571)" style="fill: #127030; stroke: #127030"/>
     <path d="M 0 1.45 C 0.384544 1.45 0.753391 1.297219 1.025305 1.025305 C 1.297219 0.753391 1.45 0.384544 1.45 0 C 1.45 -0.384544 1.297219 -0.753391 1.025305 -1.025305 C 0.753391 -1.297219 0.384544 -1.45 0 -1.45 C -0.384544 -1.45 -0.753391 -1.297219 -1.025305 -1.025305 C -1.297219 -0.753391 -1.45 -0.384544 -1.45 0 C -1.45 0.384544 -1.297219 0.753391 -1.025305 1.025305 C -0.753391 1.297219 -0.384544 1.45 0 1.45 z" transform="translate(379.2 124.285714)" style="fill: #127030; stroke: #127030"/>
     <path d="M 0 1.45 C 0.384544 1.45 0.753391 1.297219 1.025305 1.025305 C 1.297219 0.753391 1.45 0.384544 1.45 0 C 1.45 -0.384544 1.297219 -0.753391 1.025305 -1.025305 C 0.753391 -1.297219 0.384544 -1.45 0 -1.45 C -0.384544 -1.45 -0.753391 -1.297219 -1.025305 -1.025305 C -1.297219 -0.753391 -1.45 -0.384544 -1.45 0 C -1.45 0.384544 -1.297219 0.753391 -1.025305 1.025305 C -0.753391 1.297219 -0.384544 1.45 0 1.45 z" transform="translate(385.885714 126.257143)" style="fill: #127030; stroke: #127030"/>
     <path d="M 0 1.45 C 0.384544 1.45 0.753391 1.297219 1.025305 1.025305 C 1.297219 0.753391 1.45 0.384544 1.45 0 C 1.45 -0.384544 1.297219 -0.753391 1.025305 -1.025305 C 0.753391 -1.297219 0.384544 -1.45 0 -1.45 C -0.384544 -1.45 -0.753391 -1.297219 -1.025305 -1.025305 C -1.297219 -0.753391 -1.45 -0.384544 -1.45 0 C -1.45 0.384544 -1.297219 0.753391 -1.025305 1.025305 C -0.753391 1.297219 -0.384544 1.45 0 1.45 z" transform="translate(392.914286 128.142857)" style="fill: #127030; stroke: #127030"/>
     <path d="M 0 1.45 C 0.384544 1.45 0.753391 1.297219 1.025305 1.025305 C 1.297219 0.753391 1.45 0.384544 1.45 0 C 1.45 -0.384544 1.297219 -0.753391 1.025305 -1.025305 C 0.753391 -1.297219 0.384544 -1.45 0 -1.45 C -0.384544 -1.45 -0.753391 -1.297219 -1.025305 -1.025305 C -1.297219 -0.753391 -1.45 -0.384544 -1.45 0 C -1.45 0.384544 -1.297219 0.753391 -1.025305 1.025305 C -0.753391 1.297219 -0.384544 1.45 0 1.45 z" transform="translate(399.6 129.942857)" style="fill: #127030; stroke: #127030"/>
     <path d="M 0 1.45 C 0.384544 1.45 0.753391 1.297219 1.025305 1.025305 C 1.297219 0.753391 1.45 0.384544 1.45 0 C 1.45 -0.384544 1.297219 -0.753391 1.025305 -1.025305 C 0.753391 -1.297219 0.384544 -1.45 0 -1.45 C -0.384544 -1.45 -0.753391 -1.297219 -1.025305 -1.025305 C -1.297219 -0.753391 -1.45 -0.384544 -1.45 0 C -1.45 0.384544 -1.297219 0.753391 -1.025305 1.025305 C -0.753391 1.297219 -0.384544 1.45 0 1.45 z" transform="translate(406.714286 131.914286)" style="fill: #127030; stroke: #127030"/>
     <path d="M 0 1.45 C 0.384544 1.45 0.753391 1.297219 1.025305 1.025305 C 1.297219 0.753391 1.45 0.384544 1.45 0 C 1.45 -0.384544 1.297219 -0.753391 1.025305 -1.025305 C 0.753391 -1.297219 0.384544 -1.45 0 -1.45 C -0.384544 -1.45 -0.753391 -1.297219 -1.025305 -1.025305 C -1.297219 -0.753391 -1.45 -0.384544 -1.45 0 C -1.45 0.384544 -1.297219 0.753391 -1.025305 1.025305 C -0.753391 1.297219 -0.384544 1.45 0 1.45 z" transform="translate(413.828571 133.8)" style="fill: #127030; stroke: #127030"/>
     <path d="M 0 1.45 C 0.384544 1.45 0.753391 1.297219 1.025305 1.025305 C 1.297219 0.753391 1.45 0.384544 1.45 0 C 1.45 -0.384544 1.297219 -0.753391 1.025305 -1.025305 C 0.753391 -1.297219 0.384544 -1.45 0 -1.45 C -0.384544 -1.45 -0.753391 -1.297219 -1.025305 -1.025305 C -1.297219 -0.753391 -1.45 -0.384544 -1.45 0 C -1.45 0.384544 -1.297219 0.753391 -1.025305 1.025305 C -0.753391 1.297219 -0.384544 1.45 0 1.45 z" transform="translate(420.942857 135.257143)" style="fill: #127030; stroke: #127030"/>
     <path d="M 0 1.45 C 0.384544 1.45 0.753391 1.297219 1.025305 1.025305 C 1.297219 0.753391 1.45 0.384544 1.45 0 C 1.45 -0.384544 1.297219 -0.753391 1.025305 -1.025305 C 0.753391 -1.297219 0.384544 -1.45 0 -1.45 C -0.384544 -1.45 -0.753391 -1.297219 -1.025305 -1.025305 C -1.297219 -0.753391 -1.45 -0.384544 -1.45 0 C -1.45 0.384544 -1.297219 0.753391 -1.025305 1.025305 C -0.753391 1.297219 -0.384544 1.45 0 1.45 z" transform="translate(428.4 136.885714)" style="fill: #127030; stroke: #127030"/>
     <path d="M 0 1.45 C 0.384544 1.45 0.753391 1.297219 1.025305 1.025305 C 1.297219 0.753391 1.45 0.384544 1.45 0 C 1.45 -0.384544 1.297219 -0.753391 1.025305 -1.025305 C 0.753391 -1.297219 0.384544 -1.45 0 -1.45 C -0.384544 -1.45 -0.753391 -1.297219 -1.025305 -1.025305 C -1.297219 -0.753391 -1.45 -0.384544 -1.45 0 C -1.45 0.384544 -1.297219 0.753391 -1.025305 1.025305 C -0.753391 1.297219 -0.384544 1.45 0 1.45 z" transform="translate(435.514286 138.085714)" style="fill: #127030; stroke: #127030"/>
     <path d="M 0 1.45 C 0.384544 1.45 0.753391 1.297219 1.025305 1.025305 C 1.297219 0.753391 1.45 0.384544 1.45 0 C 1.45 -0.384544 1.297219 -0.753391 1.025305 -1.025305 C 0.753391 -1.297219 0.384544 -1.45 0 -1.45 C -0.384544 -1.45 -0.753391 -1.297219 -1.025305 -1.025305 C -1.297219 -0.753391 -1.45 -0.384544 -1.45 0 C -1.45 0.384544 -1.297219 0.753391 -1.025305 1.025305 C -0.753391 1.297219 -0.384544 1.45 0 1.45 z" transform="translate(443.314286 139.457143)" style="fill: #127030; stroke: #127030"/>
    </g>
   </g>
   <g id="line2d_29">
    <path d="M 277.371429 37.371429 L 282 40.628571 L 286.542857 47.142857 L 291.6 54.428571 L 296.485714 61.971429 L 301.371429 69.942857 L 306.428571 78 L 311.657143 84.257143 L 317.142857 90.685714 L 322.542857 95.742857 L 328.028571 100.028571 L 333.685714 104.142857 L 339.771429 108.342857 L 345.857143 111.6 L 352.371429 114.857143 L 358.971429 117.171429 L 365.485714 119.485714 L 372.085714 121.628571 L 379.2 124.285714 L 385.885714 126.257143 L 392.914286 128.142857 L 399.6 129.942857 L 406.714286 131.914286 L 413.828571 133.8 L 420.942857 135.257143 L 428.4 136.885714 L 435.514286 138.085714 L 443.314286 139.457143" clip-path="url(#p95ece65097)" style="fill: none; stroke-dasharray: 5.55,2.4; stroke-dashoffset: 0; stroke: #d82222; stroke-width: 1.5"/>
   </g>
   <g id="patch_6">
    <path d="M 274.071429 200.314286 L 274.071429 21.085714" style="fill: none; stroke: #000000; stroke-width: 0.8; stroke-linejoin: miter; stroke-linecap: square"/>
   </g>
   <g id="patch_7">
    <path d="M 274.071429 200.314286 L 443.357143 200.314286" style="fill: none; stroke: #000000; stroke-width: 0.8; stroke-linejoin: miter; stroke-linecap: square"/>
   </g>
   <g id="legend_2" transform="translate(-0.4286 0)">
    <g id="line2d_30">
     <path d="M 339.614955 34.184152 L 349.614955 34.184152 L 359.614955 34.184152" style="fill: none; stroke-dasharray: 5.55,2.4; stroke-dashoffset: 0; stroke: #d82222; stroke-width: 1.5"/>
    </g>
    <g id="text_28">
     <text style="font-size: 10px; font-family: 'DejaVu Sans', sans-serif; text-anchor: start" x="367.614955" y="37.684152" transform="rotate(-0 367.614955 37.684152)">DNS</text>
    </g>
    <g id="line2d_31">
     <g>
      <path d="M -2.15 2.15 L 2.15 -2.15 M -2.15 -2.15 L 2.15 2.15" transform="translate(349.5292 49.9766)" style="fill: #2020c4; stroke: #2020c4; stroke-width: 1.5"/>
     </g>
    </g>
    <g id="text_29">
     <text style="font-size: 10px; font-family: 'DejaVu Sans', sans-serif; text-anchor: start" x="367.614955" y="52.362277" transform="rotate(-0 367.614955 52.362277)">Filtered + NN</text>
    </g>
    <g id="line2d_32">
     <g>
      <path d="M 0 1.45 C 0.384544 1.45 0.753391 1.297219 1.025305 1.025305 C 1.297219 0.753391 1.45 0.384544 1.45 0 C 1.45 -0.384544 1.297219 -0.753391 1.025305 -1.025305 C 0.753391 -1.297219 0.384544 -1.45 0 -1.45 C -0.384544 -1.45 -0.753391 -1.297219 -1.025305 -1.025305 C -1.297219 -0.753391 -1.45 -0.384544 -1.45 0 C -1.45 0.384544 -1.297219 0.753391 -1.025305 1.025305 C -0.753391 1.297219 -0.384544 1.45 0 1.45 z" transform="translate(349.5292 64.6547)" style="fill: #127030; stroke: #127030"/>
     </g>
    </g>
    <g id="text_30">
     <text style="font-size: 10px; font-family: 'DejaVu Sans', sans-serif; text-anchor: start" x="367.614955" y="67.040402" transform="rotate(-0 367.614955 67.040402)">Filtered</text>
    </g>
   </g>
  </g>
 </g>
 <defs>
  <clipPath id="p7e6d1752d5">
   <rect x="42.085714" y="21.085714" width="169.2" height="179.228571"/>
  </clipPath>
  <clipPath id="p95ece65097">
   <rect x="274.071429" y="21.085714" width="169.285714" height="179.228571"/>
  </clipPath>
 </defs>
<g transform="scale(0.857143)"><text x="158.65" y="9.8" text-anchor="middle" style="font-family:'Liberation Serif',serif;font-size:13px;fill:#3c3c3c;stroke:none">(a)</text>
<text x="419.5" y="9.8" text-anchor="middle" style="font-family:'Liberation Serif',serif;font-size:13px;fill:#3c3c3c;stroke:none">(b)</text></g>
</svg>
</body></html>
